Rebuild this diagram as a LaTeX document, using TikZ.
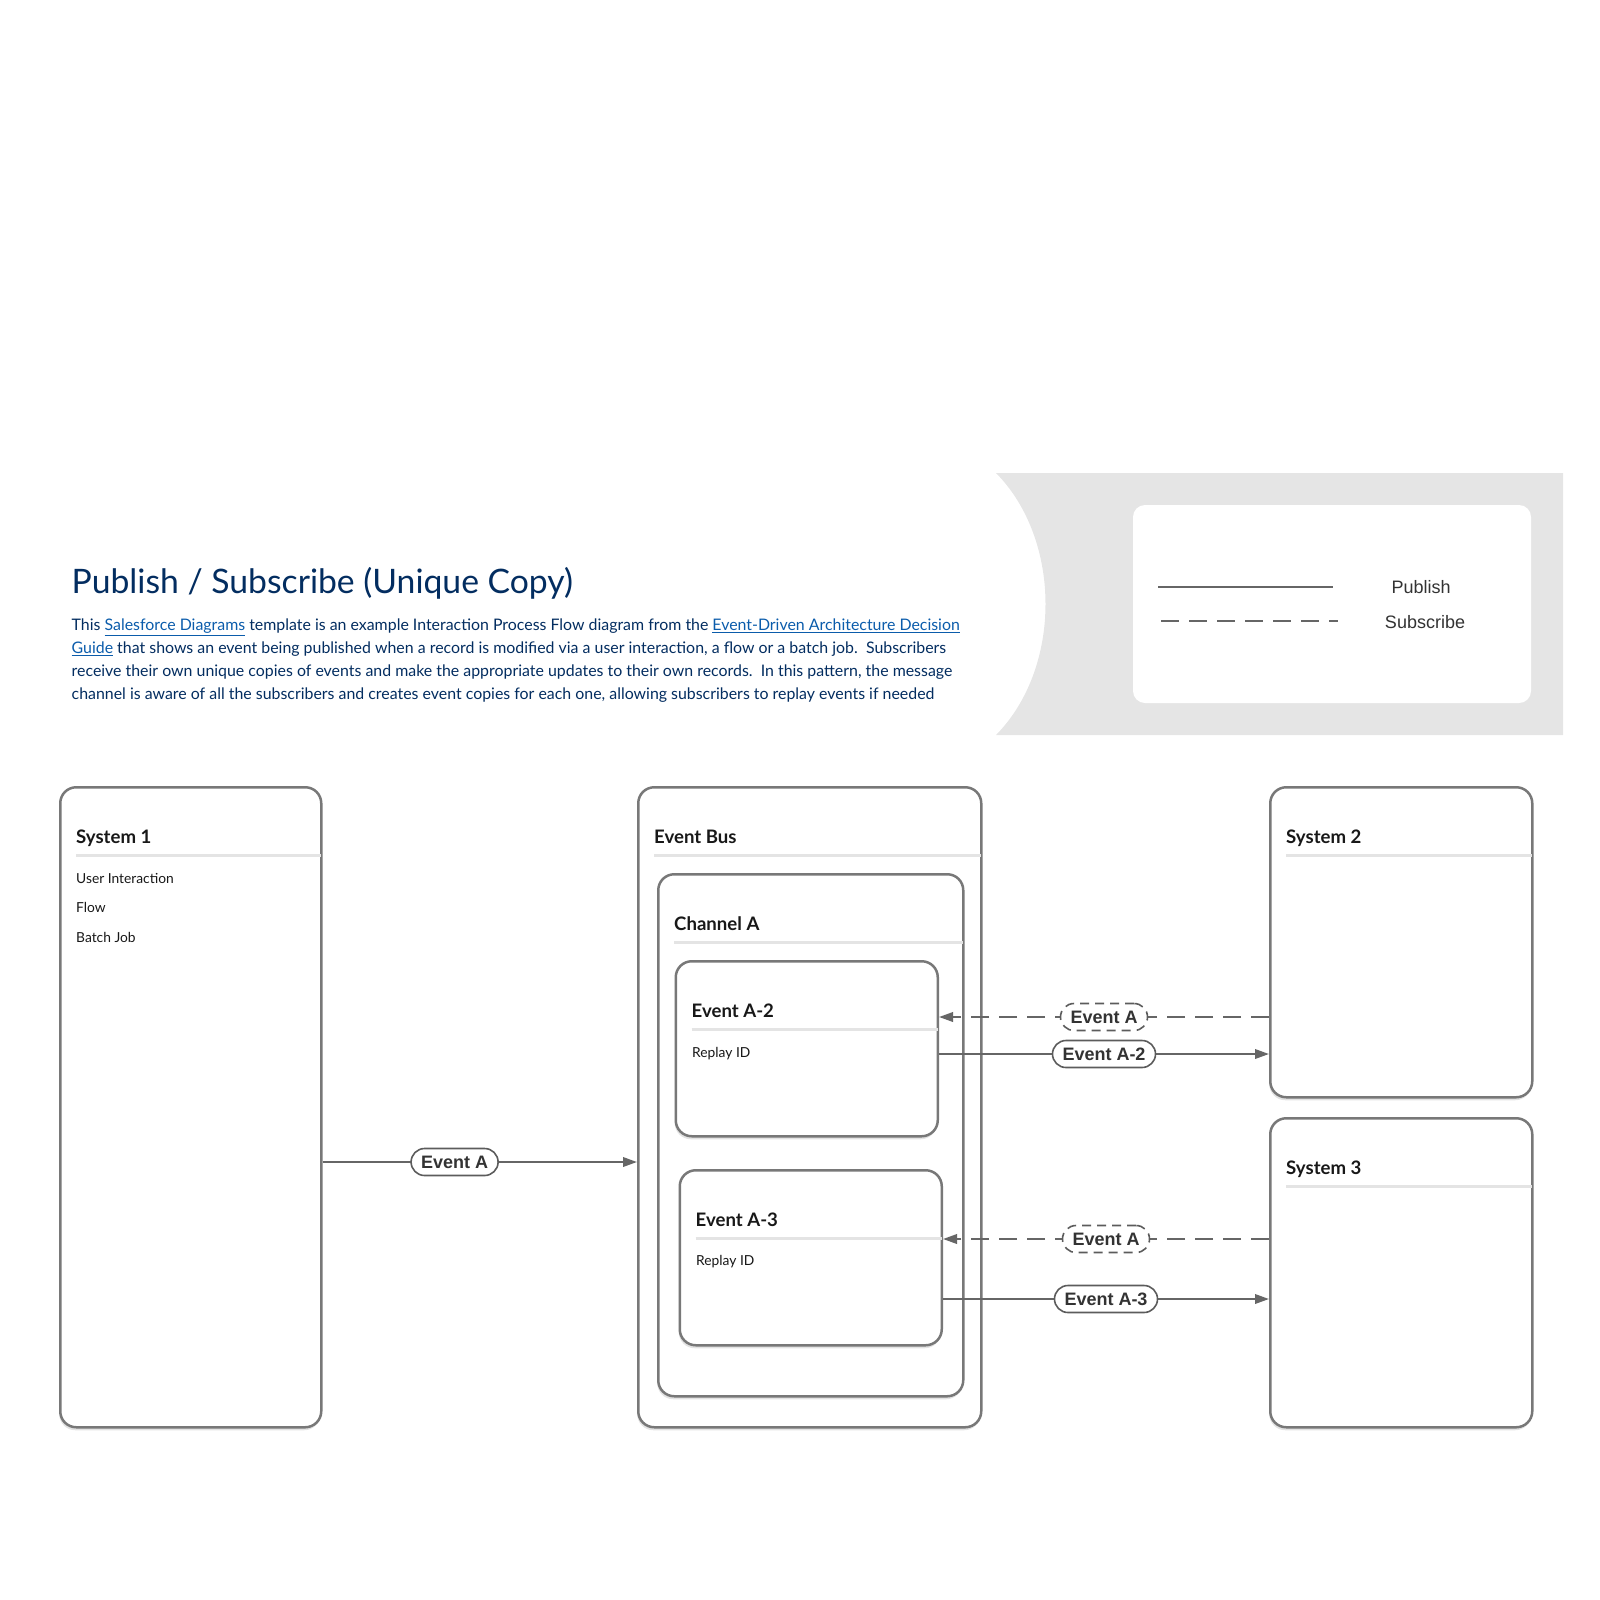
\documentclass[tikz,border=0pt]{standalone}
\usepackage{fontspec}
\setmainfont{Lato}
\newfontfamily\arialfont{Liberation Sans}
\usetikzlibrary{arrows.meta,calc,shadows}

\definecolor{navy}{HTML}{032D60}
\definecolor{linkblue}{HTML}{0B5CAB}
\definecolor{boxgray}{HTML}{787878}
\definecolor{linegray}{HTML}{666666}
\definecolor{sepgray}{HTML}{E4E4E4}
\definecolor{bggray}{HTML}{E5E5E5}
\definecolor{titleblack}{HTML}{181818}

\newcommand{\lnk}[1]{{\color{linkblue}\underline{#1}}}

\tikzset{
  sysbox/.style={draw=boxgray, line width=2.5pt, fill=white, rounded corners=16pt,
    anchor=north west, inner sep=0pt,
    drop shadow={shadow xshift=-1pt, shadow yshift=-3pt, opacity=.22}},
  boxtitle/.style={anchor=base west, inner sep=0pt, text=titleblack,
    font=\fontsize{18.6}{22}\selectfont\bfseries},
  itemtext/.style={anchor=base west, inner sep=0pt, text=titleblack,
    font=\fontsize{13.8}{16}\selectfont},
  sepline/.style={draw=sepgray, line width=2.5pt},
  pub/.style={draw=linegray, line width=2pt, -{Triangle[length=14pt,width=9.5pt]}},
  sub/.style={pub, dash pattern=on 18pt off 10pt},
  pill/.style={draw=linegray!90!black, line width=1.6pt, fill=white, solid,
    rounded corners=13.5pt, minimum height=27pt, inner xsep=10pt, inner ysep=0pt,
    text=black!80, font=\arialfont\fontsize{18}{20}\selectfont\bfseries},
  legtext/.style={inner sep=0pt, text=black!80, font=\arialfont\fontsize{18}{20}\selectfont}
}

\begin{document}
\begin{tikzpicture}[x=1pt,y=-1pt]
  \useasboundingbox (0,0) rectangle (1600,1600);

  % legend backdrop
  \fill[bggray] (996,473) .. controls (1062,540) and (1062,668) .. (996,735)
    -- (1563,735) -- (1563,473) -- cycle;
  \fill[white, rounded corners=12pt] (1133,505) rectangle (1531,703);
  \draw[draw=linegray, line width=2pt] (1158,587) -- (1333,587);
  \draw[draw=linegray, line width=2pt, dash pattern=on 18pt off 10pt] (1161,621) -- (1338,621);
  \node[legtext] (pubtxt) at (1421,587) {Publish};
  \node[legtext] (subtxt) at (1425,622) {Subscribe};

  % heading
  \node[anchor=base west, inner sep=0pt, text=navy, font=\fontsize{33.7}{38}\selectfont]
    (title) at (71.5,593) {Publish / Subscribe (Unique Copy)};
  \node[anchor=north west, inner sep=0pt, text=navy, align=left,
    font=\fontsize{15.9}{23}\selectfont] (intro) at (71.5,618.5)
    {This \lnk{Salesforce Diagrams} template is an example Interaction Process Flow diagram from the \lnk{Event-Driven Architecture Decision}\\
     \lnk{Guide} that shows an event being published when a record is modified via a user interaction, a flow or a batch job.\ \ Subscribers\\
     receive their own unique copies of events and make the appropriate updates to their own records.\ \ In this pattern, the message\\
     channel is aware of all the subscribers and creates event copies for each one, allowing subscribers to replay events if needed};

  % boxes
  \node[sysbox, minimum width=261pt, minimum height=640pt] (sys1) at (59,786) {};
  \node[sysbox, minimum width=343pt, minimum height=640pt] (bus) at (637,786) {};
  \node[sysbox, minimum width=305pt, minimum height=522pt] (chanA) at (657,873) {};
  \node[sysbox, minimum width=262pt, minimum height=175pt] (evA2) at (674.5,960) {};
  \node[sysbox, minimum width=262pt, minimum height=175pt] (evA3) at (678.5,1169) {};
  \node[sysbox, minimum width=262pt, minimum height=310pt] (sys2) at (1269,786) {};
  \node[sysbox, minimum width=262pt, minimum height=309pt] (sys3) at (1269,1117) {};

  \foreach \b/\t in {sys1/System 1, bus/Event Bus, chanA/Channel A, evA2/Event A-2,
                     evA3/Event A-3, sys2/System 2, sys3/System 3} {
    \node[boxtitle] (\b-title) at ($(\b.north west)+(17,57)$) {\t};
    \draw[sepline] ($(\b.north west)+(17,69.5)$) -- ($(\b.north east)+(-1.5,69.5)$);
  }

  \node[itemtext] (ui) at ($(sys1.north west)+(17,97)$) {User Interaction};
  \node[itemtext] (flow) at ($(sys1.north west)+(17,126.5)$) {Flow};
  \node[itemtext] (batch) at ($(sys1.north west)+(17,156)$) {Batch Job};
  \node[itemtext] (rid2) at ($(evA2.north west)+(17.5,97.5)$) {Replay ID};
  \node[itemtext] (rid3) at ($(evA3.north west)+(17.5,96.5)$) {Replay ID};

  % connectors
  \coordinate (pubA) at (0,1162);
  \coordinate (sub2) at (0,1017);
  \coordinate (pub2) at (0,1054);
  \coordinate (sub3) at (0,1239);
  \coordinate (pub3) at (0,1299);
  \draw[pub] (sys1.east |- pubA) -- node[pill, pos=.42] (lblA) {Event A} (bus.west |- pubA);
  \draw[sub] (sys2.west |- sub2) -- node[pill, dash pattern=on 9pt off 6pt] (lblS2) {Event A} (evA2.east |- sub2);
  \draw[pub] (evA2.east |- pub2) -- node[pill] (lblP2) {Event A-2} (sys2.west |- pub2);
  \draw[sub] (sys3.west |- sub3) -- node[pill, dash pattern=on 9pt off 6pt] (lblS3) {Event A} (evA3.east |- sub3);
  \draw[pub] (evA3.east |- pub3) -- node[pill] (lblP3) {Event A-3} (sys3.west |- pub3);
\end{tikzpicture}
\end{document}
